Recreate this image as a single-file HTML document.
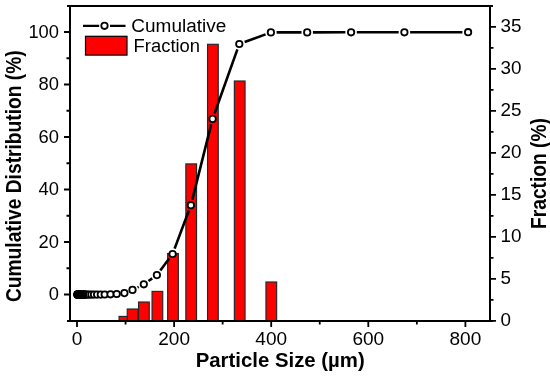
<!DOCTYPE html>
<html><head><meta charset="utf-8"><title>Particle size distribution</title>
<style>html,body{margin:0;padding:0;background:#fff;}body{width:550px;height:376px;overflow:hidden;}svg{display:block;}</style>
</head><body>
<svg width="550" height="376" viewBox="0 0 550 376"><rect x="119.05" y="316.40" width="10.70" height="4.60" fill="#ff0000" stroke="#1e2a2a" stroke-width="1.15"/>
<rect x="127.25" y="309.00" width="10.70" height="12.00" fill="#ff0000" stroke="#1e2a2a" stroke-width="1.15"/>
<rect x="138.55" y="302.00" width="10.70" height="19.00" fill="#ff0000" stroke="#1e2a2a" stroke-width="1.15"/>
<rect x="152.05" y="291.40" width="10.70" height="29.60" fill="#ff0000" stroke="#1e2a2a" stroke-width="1.15"/>
<rect x="167.65" y="253.50" width="10.70" height="67.50" fill="#ff0000" stroke="#1e2a2a" stroke-width="1.15"/>
<rect x="185.85" y="163.90" width="10.70" height="157.10" fill="#ff0000" stroke="#1e2a2a" stroke-width="1.15"/>
<rect x="207.55" y="44.30" width="10.70" height="276.70" fill="#ff0000" stroke="#1e2a2a" stroke-width="1.15"/>
<rect x="234.35" y="81.00" width="10.70" height="240.00" fill="#ff0000" stroke="#1e2a2a" stroke-width="1.15"/>
<rect x="265.95" y="282.00" width="10.70" height="39.00" fill="#ff0000" stroke="#1e2a2a" stroke-width="1.15"/>
<path d="M137.61 287.37L138.69 286.83 M148.46 281.02L152.24 278.38 M160.30 270.53L169.20 258.57 M174.60 248.66L188.90 210.54 M192.29 199.67L211.21 124.43 M214.51 113.53L237.39 49.37 M244.65 42.04L265.55 34.36 M276.60 32.40L301.50 32.40 M312.90 32.39L345.40 32.31 M356.80 32.30L398.70 32.30 M410.10 32.29L462.40 32.21" stroke="#000" stroke-width="2.6" fill="none"/>
<circle cx="77.63" cy="294.60" r="3.2" fill="#fff" stroke="#000" stroke-width="1.8"/>
<circle cx="77.65" cy="294.60" r="3.2" fill="#fff" stroke="#000" stroke-width="1.8"/>
<circle cx="77.68" cy="294.60" r="3.2" fill="#fff" stroke="#000" stroke-width="1.8"/>
<circle cx="77.72" cy="294.60" r="3.2" fill="#fff" stroke="#000" stroke-width="1.8"/>
<circle cx="77.76" cy="294.60" r="3.2" fill="#fff" stroke="#000" stroke-width="1.8"/>
<circle cx="77.81" cy="294.60" r="3.2" fill="#fff" stroke="#000" stroke-width="1.8"/>
<circle cx="77.87" cy="294.60" r="3.2" fill="#fff" stroke="#000" stroke-width="1.8"/>
<circle cx="77.93" cy="294.60" r="3.2" fill="#fff" stroke="#000" stroke-width="1.8"/>
<circle cx="78.02" cy="294.60" r="3.2" fill="#fff" stroke="#000" stroke-width="1.8"/>
<circle cx="78.11" cy="294.60" r="3.2" fill="#fff" stroke="#000" stroke-width="1.8"/>
<circle cx="78.23" cy="294.60" r="3.2" fill="#fff" stroke="#000" stroke-width="1.8"/>
<circle cx="78.37" cy="294.60" r="3.2" fill="#fff" stroke="#000" stroke-width="1.8"/>
<circle cx="78.53" cy="294.60" r="3.2" fill="#fff" stroke="#000" stroke-width="1.8"/>
<circle cx="78.73" cy="294.60" r="3.2" fill="#fff" stroke="#000" stroke-width="1.8"/>
<circle cx="78.96" cy="294.60" r="3.2" fill="#fff" stroke="#000" stroke-width="1.8"/>
<circle cx="79.23" cy="294.60" r="3.2" fill="#fff" stroke="#000" stroke-width="1.8"/>
<circle cx="79.56" cy="294.60" r="3.2" fill="#fff" stroke="#000" stroke-width="1.8"/>
<circle cx="79.95" cy="294.60" r="3.2" fill="#fff" stroke="#000" stroke-width="1.8"/>
<circle cx="80.42" cy="294.60" r="3.2" fill="#fff" stroke="#000" stroke-width="1.8"/>
<circle cx="80.97" cy="294.60" r="3.2" fill="#fff" stroke="#000" stroke-width="1.8"/>
<circle cx="81.62" cy="294.60" r="3.2" fill="#fff" stroke="#000" stroke-width="1.8"/>
<circle cx="82.40" cy="294.60" r="3.2" fill="#fff" stroke="#000" stroke-width="1.8"/>
<circle cx="83.33" cy="294.60" r="3.2" fill="#fff" stroke="#000" stroke-width="1.8"/>
<circle cx="84.43" cy="294.60" r="3.2" fill="#fff" stroke="#000" stroke-width="1.8"/>
<circle cx="85.74" cy="294.60" r="3.2" fill="#fff" stroke="#000" stroke-width="1.8"/>
<circle cx="87.29" cy="294.60" r="3.2" fill="#fff" stroke="#000" stroke-width="1.8"/>
<path d="M77.5 294.6H84.3" stroke="#000" stroke-width="8.6" stroke-linecap="round"/>
<circle cx="89.15" cy="294.60" r="3.2" fill="#fff" stroke="#000" stroke-width="1.8"/>
<circle cx="91.35" cy="294.60" r="3.2" fill="#fff" stroke="#000" stroke-width="1.8"/>
<circle cx="93.96" cy="294.60" r="3.2" fill="#fff" stroke="#000" stroke-width="1.8"/>
<circle cx="97.07" cy="294.60" r="3.2" fill="#fff" stroke="#000" stroke-width="1.8"/>
<circle cx="100.77" cy="294.60" r="3.2" fill="#fff" stroke="#000" stroke-width="1.8"/>
<circle cx="104.70" cy="294.50" r="3.2" fill="#fff" stroke="#000" stroke-width="1.8"/>
<circle cx="110.50" cy="294.30" r="3.2" fill="#fff" stroke="#000" stroke-width="1.8"/>
<circle cx="116.70" cy="294.00" r="3.2" fill="#fff" stroke="#000" stroke-width="1.8"/>
<circle cx="124.40" cy="293.10" r="3.2" fill="#fff" stroke="#000" stroke-width="1.8"/>
<circle cx="132.50" cy="289.90" r="3.2" fill="#fff" stroke="#000" stroke-width="1.8"/>
<circle cx="143.80" cy="284.30" r="3.2" fill="#fff" stroke="#000" stroke-width="1.8"/>
<circle cx="156.90" cy="275.10" r="3.2" fill="#fff" stroke="#000" stroke-width="1.8"/>
<circle cx="172.60" cy="254.00" r="3.2" fill="#fff" stroke="#000" stroke-width="1.8"/>
<circle cx="190.90" cy="205.20" r="3.2" fill="#fff" stroke="#000" stroke-width="1.8"/>
<circle cx="212.60" cy="118.90" r="3.2" fill="#fff" stroke="#000" stroke-width="1.8"/>
<circle cx="239.30" cy="44.00" r="3.2" fill="#fff" stroke="#000" stroke-width="1.8"/>
<circle cx="270.90" cy="32.40" r="3.2" fill="#fff" stroke="#000" stroke-width="1.8"/>
<circle cx="307.20" cy="32.40" r="3.2" fill="#fff" stroke="#000" stroke-width="1.8"/>
<circle cx="351.10" cy="32.30" r="3.2" fill="#fff" stroke="#000" stroke-width="1.8"/>
<circle cx="404.40" cy="32.30" r="3.2" fill="#fff" stroke="#000" stroke-width="1.8"/>
<circle cx="468.10" cy="32.20" r="3.2" fill="#fff" stroke="#000" stroke-width="1.8"/>
<path d="M67 6H493 M67 321H493 M70 5V322 M490 5V322" stroke="#000" stroke-width="2" fill="none"/>
<path d="M64 294.50H69 M64 242.00H69 M64 189.50H69 M64 137.00H69 M64 84.50H69 M64 32.00H69 M66.5 268.25H69 M66.5 215.75H69 M66.5 163.25H69 M66.5 110.75H69 M66.5 58.25H69 M77.00 322V327 M174.10 322V327 M271.20 322V327 M368.30 322V327 M465.40 322V327 M125.55 322V324.5 M222.65 322V324.5 M319.75 322V324.5 M416.85 322V324.5 M491 320.90H496 M491 278.90H496 M491 236.90H496 M491 194.90H496 M491 152.90H496 M491 110.90H496 M491 68.90H496 M491 26.90H496 M491 299.90H493.5 M491 257.90H493.5 M491 215.90H493.5 M491 173.90H493.5 M491 131.90H493.5 M491 89.90H493.5 M491 47.90H493.5" stroke="#000" stroke-width="1.8" fill="none"/>
<g font-family="Liberation Sans, Arial, sans-serif" font-size="17.8" fill="#000"><text x="59.00" y="300.00" text-anchor="end" textLength="10.19" lengthAdjust="spacingAndGlyphs">0</text><text x="59.00" y="247.50" text-anchor="end" textLength="20.39" lengthAdjust="spacingAndGlyphs">20</text><text x="59.00" y="195.00" text-anchor="end" textLength="20.39" lengthAdjust="spacingAndGlyphs">40</text><text x="59.00" y="142.50" text-anchor="end" textLength="20.39" lengthAdjust="spacingAndGlyphs">60</text><text x="59.00" y="90.00" text-anchor="end" textLength="20.39" lengthAdjust="spacingAndGlyphs">80</text><text x="59.00" y="37.50" text-anchor="end" textLength="30.58" lengthAdjust="spacingAndGlyphs">100</text><text x="77.00" y="344.80" text-anchor="middle" textLength="10.59" lengthAdjust="spacingAndGlyphs">0</text><text x="174.10" y="344.80" text-anchor="middle" textLength="31.77" lengthAdjust="spacingAndGlyphs">200</text><text x="271.20" y="344.80" text-anchor="middle" textLength="31.77" lengthAdjust="spacingAndGlyphs">400</text><text x="368.30" y="344.80" text-anchor="middle" textLength="31.77" lengthAdjust="spacingAndGlyphs">600</text><text x="465.40" y="344.80" text-anchor="middle" textLength="31.77" lengthAdjust="spacingAndGlyphs">800</text><text x="500.60" y="326.20" text-anchor="start" textLength="10.49" lengthAdjust="spacingAndGlyphs">0</text><text x="500.60" y="284.20" text-anchor="start" textLength="10.49" lengthAdjust="spacingAndGlyphs">5</text><text x="500.60" y="242.20" text-anchor="start" textLength="20.98" lengthAdjust="spacingAndGlyphs">10</text><text x="500.60" y="200.20" text-anchor="start" textLength="20.98" lengthAdjust="spacingAndGlyphs">15</text><text x="500.60" y="158.20" text-anchor="start" textLength="20.98" lengthAdjust="spacingAndGlyphs">20</text><text x="500.60" y="116.20" text-anchor="start" textLength="20.98" lengthAdjust="spacingAndGlyphs">25</text><text x="500.60" y="74.20" text-anchor="start" textLength="20.98" lengthAdjust="spacingAndGlyphs">30</text><text x="500.60" y="32.20" text-anchor="start" textLength="20.98" lengthAdjust="spacingAndGlyphs">35</text></g>
<g font-family="Liberation Sans, Arial, sans-serif" font-weight="bold" fill="#000"><text x="280.2" y="366.9" font-size="19.6" text-anchor="middle" textLength="169" lengthAdjust="spacingAndGlyphs">Particle Size (µm)</text><text transform="translate(21.3,176.2) scale(1.15,1) rotate(-90)" font-size="19.2" text-anchor="middle">Cumulative Distribution (%)</text><text transform="translate(545.5,173.55) scale(1.16,1) rotate(-90)" font-size="19.2" text-anchor="middle">Fraction (%)</text></g>
<path d="M83 25.8H99.2M110 25.8H125.5" stroke="#000" stroke-width="2.3"/>
<circle cx="104.5" cy="25.8" r="3.2" fill="#fff" stroke="#000" stroke-width="1.8"/>
<rect x="85.5" y="36.3" width="41.5" height="18.8" fill="#ff0000" stroke="#000" stroke-width="1.2"/>
<g font-family="Liberation Sans, Arial, sans-serif" font-size="17.6" fill="#000"><text x="131.3" y="31.5" textLength="95" lengthAdjust="spacingAndGlyphs">Cumulative</text><text x="133.6" y="51.5" textLength="66.5" lengthAdjust="spacingAndGlyphs">Fraction</text></g></svg>
</body></html>
